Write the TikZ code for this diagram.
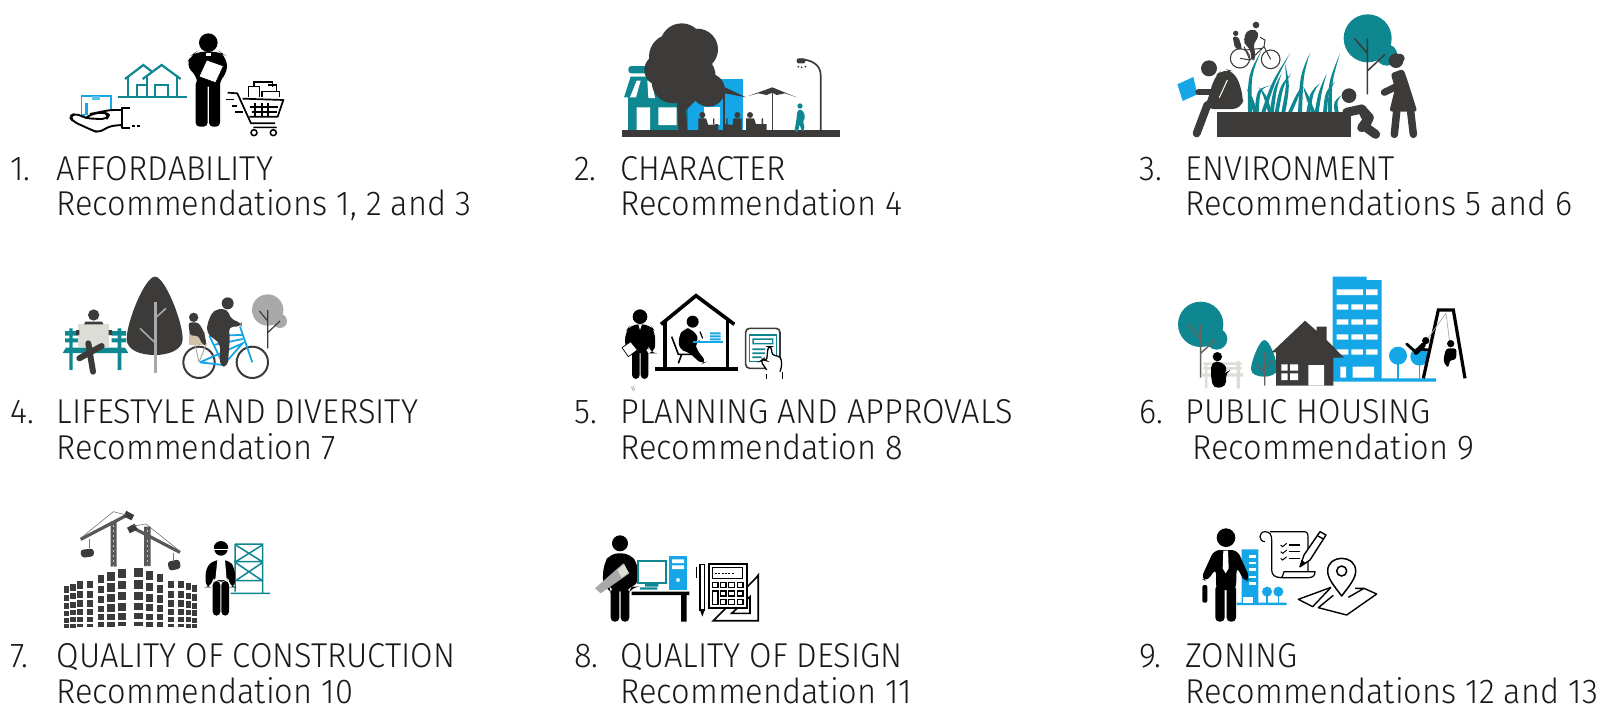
\documentclass[tikz,border=0pt]{standalone}
\usepackage{fontspec}
\setmainfont[FakeStretch=0.945]{Fira Sans Light}
\definecolor{tl}{HTML}{0E8791}
\definecolor{dk}{HTML}{3C3B39}
\definecolor{bl}{HTML}{14A6E6}
\definecolor{gy}{HTML}{A9A9A9}
\definecolor{lg}{HTML}{DDDDD8}
\tikzset{
 lab/.style={font=\fontsize{34.5}{35}\selectfont, anchor=base west, inner sep=0pt, text=black!90},
 zoomed/.style={x=0.33333pt,y=-0.33333pt},
 limb/.style={line cap=round,line join=round},
}
\newcommand\blade[5]{\fill[tl] (#1-6,322) .. controls (#2-5,#3) .. (#4,#5) .. controls (#2+5,#3) .. (#1+6,322) -- cycle;}
\newcommand\bcol[5]{\foreach \i in {1,...,#5}{\pgfmathsetmacro\ya{#3+(#4-#3)*(1-(1.0001-(\i-1)/#5)^1.25)}\pgfmathsetmacro\yn{#3+(#4-#3)*(1-(1.0001-\i/#5)^1.25)}\pgfmathsetmacro\yb{\ya+0.76*(\yn-\ya)}\fill[dk] (#1,\ya) rectangle (#1+#2,\yb);}}
\begin{document}
\begin{tikzpicture}[x=1pt,y=-1pt]
\useasboundingbox (0,0) rectangle (1600,715);
% ---------- labels
\node[lab] (n1) at (10,180.5) {1.}; \node[lab] (t1) at (56.5,180.5) {AFFORDABILITY}; \node[lab] (r1) at (56.5,215) {Recommendations 1, 2 and 3};
\node[lab] (n2) at (574,180.5) {2.}; \node[lab] (t2) at (620.5,180.5) {CHARACTER}; \node[lab] (r2) at (620.5,215) {Recommendation 4};
\node[lab] (n3) at (1139,180.5) {3.}; \node[lab] (t3) at (1185.5,180.5) {ENVIRONMENT}; \node[lab] (r3) at (1185.5,215) {Recommendations 5 and 6};
\node[lab] (n4) at (10,423) {4.}; \node[lab] (t4) at (56.5,423) {LIFESTYLE AND DIVERSITY}; \node[lab] (r4) at (56.5,459.5) {Recommendation 7};
\node[lab] (n5) at (574,423) {5.}; \node[lab] (t5) at (620.5,423) {PLANNING AND APPROVALS}; \node[lab] (r5) at (620.5,459.5) {Recommendation 8};
\node[lab] (n6) at (1139,423) {6.}; \node[lab] (t6) at (1185.5,423) {PUBLIC HOUSING}; \node[lab] (r6) at (1192.5,459.5) {Recommendation 9};
\node[lab] (n7) at (10,667) {7.}; \node[lab] (t7) at (56.5,667) {QUALITY OF CONSTRUCTION}; \node[lab] (r7) at (56.5,703.5) {Recommendation 10};
\node[lab] (n8) at (574,667) {8.}; \node[lab] (t8) at (620.5,667) {QUALITY OF DESIGN}; \node[lab] (r8) at (620.5,703.5) {Recommendation 11};
\node[lab] (n9) at (1139,667) {9.}; \node[lab] (t9) at (1185.5,667) {ZONING}; \node[lab] (r9) at (1185.5,703.5) {Recommendations 12 and 13};
% ---------- icon 1
\begin{scope}[shift={(50,20)},zoomed]
\draw[tl,line width=2.2pt] (205,232)--(410,232);
\draw[tl,line width=2.2pt,line join=miter] (225,177)--(280,135)--(306,155) (278,177)--(335,135)--(392,177);
\draw[tl,line width=2pt] (233,172)--(233,232) (292,170)--(292,232) (380,170)--(380,232)
 (262,232)--(262,195)--(290,195) (316,232)--(316,195)--(355,195)--(355,232);
\fill (475,68) circle[radius=28];
\fill[rounded corners=8pt] (440,95)--(510,95)--(525,105)--(535,155)--(505,185)--(508,200)--(442,200)--(445,175)--(407,135)--(425,105)--cycle;
\fill[rounded corners=4pt] (437,180) rectangle (473,320);
\fill[rounded corners=4pt] (477,180) rectangle (510,320);
\fill[white] (470,120)--(520,138)--(497,188)--(447,170)--cycle;
\draw[line width=.6pt] (470,120)--(520,138)--(497,188)--(447,170)--cycle;
\fill[white] (468,100) rectangle (482,108);
\draw[bl,line width=1.6pt] (105,285)--(95,285)--(95,228)--(183,228)--(183,270);
\fill[bl!70] (125,228) rectangle (150,240);
\fill[bl] (105,250) rectangle (115,285);
\draw[line width=1.9pt,line join=round] (240,263)--(215,263)--(215,325)--(240,325);
\draw[line width=1.9pt,line join=round,rounded corners=5pt,fill=white] (215,315)--(180,318)--(145,338)--(125,330)--(70,305)--(58,290)--(75,280)--(110,295)--(170,298)--(178,283)--(160,277)--(125,282)--(105,295);
\draw[line width=1.9pt,rounded corners=4pt] (120,282)--(180,270)--(215,270);
\fill (247,315) rectangle (256,320); \fill (260,315) rectangle (269,320);
% cart
\draw[line width=1.7pt,line join=round] (533,218)--(562,220)--(603,310)--(675,310);
\draw[line width=1.7pt,line join=round] (578,236)--(700,240)--(683,290)--(598,290);
\draw[line width=1.7pt] (616,250)--(616,288) (635,250)--(635,288) (655,250)--(655,288) (600,262)--(685,262) (605,276)--(680,276);
\draw[line width=1.5pt] (612,338) circle[radius=9] (670,338) circle[radius=9] (610,322)--(680,322);
\draw[line width=1.4pt] (595,232)--(595,200)--(628,200)--(628,232) (612,200)--(612,186)--(668,186)--(668,200) (636,232)--(636,215)--(688,215)--(688,232) (655,195)--(680,195)--(680,215);
\draw[line width=1.3pt] (528,238)--(552,238) (555,276)--(580,276) (545,258)--(562,258);
\end{scope}
% ---------- icon 2
\begin{scope}[shift={(610,10)},zoomed]
\fill[bl] (235,208) rectangle (400,360);
\fill[white] (283,290) rectangle (330,345);
\fill[tl] (55,225) rectangle (235,360);
\fill[white] (80,292) rectangle (120,360) (145,292) rectangle (200,345);
\fill[tl,rounded corners=3pt] (55,168) rectangle (115,190);
\fill[tl] (62,200)--(150,200)--(170,265)--(42,262)--cycle;
\fill[white] (80,212)--(92,212)--(78,262)--(60,262)--cycle (112,212)--(125,212)--(135,264)--(115,264)--cycle;
\fill[dk] (35,360) rectangle (690,380);
\fill[dk] (215,105) circle[radius=65] (185,140) circle[radius=68] (262,118) circle[radius=62] (150,180) circle[radius=47] (190,215) circle[radius=65] (245,200) circle[radius=72] (295,240) circle[radius=50];
\fill[dk] (205,360)--(232,360)--(228,300)--(258,270)--(200,260)--cycle;
\draw[dk,line width=1.4pt] (342,250)--(342,360) (487,235)--(487,360);
\fill[dk] (345,232)--(408,262)--(345,250)--cycle;
\fill[dk] (415,258)--(487,232)--(560,262)--(525,250)--(500,255)--(487,248)--(470,255)--(445,250)--cycle;
\draw[dk,line width=1.7pt] (632,360)--(632,195) .. controls (632,165) and (605,148) .. (568,148);
\fill[dk,rounded corners=2pt] (560,145) rectangle (586,160);
\fill[dk] (565,170) circle[radius=3] (575,172) circle[radius=3] (586,170) circle[radius=3];
% people
\fill[dk] (277,315) circle[radius=9] (382,315) circle[radius=9] (420,315) circle[radius=9];
\fill[dk] (265,325)--(288,325)--(295,345)--(325,342)--(325,360)--(265,360)--cycle;
\fill[dk] (370,325)--(395,325)--(395,360)--(345,360)--(345,342)--(368,345)--cycle;
\fill[dk] (408,325)--(432,325)--(438,342)--(470,342)--(470,360)--(408,360)--cycle;
\fill[dk] (309,325) rectangle (313,342) (349,325) rectangle (353,342) (455,325) rectangle (459,342);
% walker
\fill[tl] (570,288) circle[radius=8];
\fill[tl,rounded corners=3pt] (562,299)--(578,299)--(587,325)--(578,328)--(585,360)--(576,366)--(568,340)--(565,366)--(553,366)--(560,325)--cycle;
\end{scope}
% ---------- icon 3
\begin{scope}[shift={(1170,5)},zoomed]
\fill[tl] (593,100) circle[radius=72] (650,150) circle[radius=32];
\draw[dk,line width=1.5pt] (592,100)--(592,268) (553,100)--(592,145) (645,148)--(592,198);
\blade{240}{238}{210}{275}{135}\blade{260}{265}{250}{310}{240}\blade{280}{310}{230}{360}{145}\blade{305}{315}{250}{335}{205}\blade{320}{335}{240}{365}{205}\blade{340}{355}{240}{345}{175}\blade{390}{395}{210}{420}{143}\blade{415}{425}{260}{450}{235}\blade{440}{450}{260}{470}{205}\blade{480}{480}{230}{510}{145}\blade{465}{470}{260}{495}{230}\blade{255}{245}{280}{230}{250}\blade{360}{385}{265}{395}{245}\blade{300}{285}{270}{265}{245}\blade{430}{410}{270}{400}{245}\blade{500}{495}{290}{515}{270}
\fill[dk] (140,322) rectangle (543,395);
\fill[bl] (22,238)--(70,216)--(82,268)--(38,288)--cycle;
\fill[dk] (117,190) circle[radius=24];
\fill[dk,rounded corners=10pt] (130,218)--(160,190)--(195,200)--(220,270)--(218,312)--(100,312)--(120,270)--cycle;
\draw[dk,limb,line width=8pt] (112,300)--(80,385);
\draw[dk,limb,line width=6pt] (85,262)--(150,262);
\draw[white,line width=1pt] (148,278)--(172,225);
% bike
\draw[dk,line width=1.1pt] (210,160) circle[radius=29] (302,163) circle[radius=28];
\draw[dk,line width=1pt] (210,160)--(240,165)--(282,125)--(302,163) (240,165)--(222,125) (225,135)--(278,130) (270,97)--(285,105)--(282,125);
\fill[dk] (258,60) circle[radius=10] (197,85) circle[radius=8];
\fill[dk,rounded corners=4pt] (228,78)--(258,72)--(268,95)--(250,115)--(258,160)--(245,170)--(240,130)--(220,115)--cycle;
\fill[dk,rounded corners=2pt] (188,95)--(205,95)--(215,125)--(215,135)--(195,130)--cycle;
% child
\fill[dk] (537,272) circle[radius=22];
\draw[dk,limb,line width=9pt] (530,322)--(575,312)--(592,345)--(575,368);
\draw[dk,limb,line width=9pt] (575,312)--(598,338)--(585,365)--(617,388);
% woman
\fill[dk] (678,167) circle[radius=22] (690,160) circle[radius=14];
\fill[dk,rounded corners=3pt] (662,205)--(700,192)--(712,225)--(742,320)--(658,320)--(675,250)--cycle;
\draw[dk,limb,line width=7pt] (643,262)--(678,245);
\draw[dk,limb,line width=7.5pt] (680,320)--(673,388) (722,320)--(730,388);
\end{scope}
% ---------- icon 4
\begin{scope}[shift={(50,265)},zoomed]
\fill[tl] (58,190) rectangle (68,315) (203,190) rectangle (214,315);
\fill[tl] (45,198) rectangle (85,212) (45,220) rectangle (85,232) (185,198) rectangle (228,212) (185,220) rectangle (228,232);
\fill[tl] (48,248)--(225,248)--(235,264)--(38,264)--cycle;
\fill[lg] (85,178) rectangle (178,245);
\fill[dk] (131,150) circle[radius=17] (106,170)--(156,170)--(160,178)--(102,178)--cycle;
\fill[dk] (78,195) rectangle (88,210) (176,195) rectangle (186,210);
\draw[dk,limb,line width=6pt] (88,280)--(155,243) (115,235)--(129,320);
\fill[dk] (315,35) .. controls (345,35) and (398,170) .. (398,222) .. controls (398,255) and (355,270) .. (315,270) .. controls (270,270) and (230,255) .. (230,222) .. controls (230,170) and (285,35) .. (315,35) -- cycle;
\draw[gy,line width=2.6pt] (317,110)--(317,325);
\draw[gy,line width=1.6pt] (270,190)--(317,235) (348,130)--(317,158);
\fill[gy] (653,135) circle[radius=47] (690,168) circle[radius=21];
\draw[dk,line width=1.2pt] (653,135)--(653,250) (628,138)--(653,168) (690,168)--(653,203);
% bike
\draw[dk,line width=2pt] (447,292) circle[radius=47] (607,292) circle[radius=47];
\draw[gy,line width=1pt] (447,292)--(430,215) (447,292)--(470,235);
\fill[dk] (431,157) circle[radius=14] (533,115) circle[radius=18];
\fill[lg!70!brown] (418,200) rectangle (465,240);
\fill[dk,rounded corners=3pt] (415,172)--(445,172)--(462,200)--(470,240)--(458,240)--(445,212)--(420,212)--cycle;
\draw[bl,line width=1.8pt] (450,292)--(578,235)--(520,300)--(450,292) (478,212)--(520,300) (478,212)--(578,210) (570,185)--(607,292) (490,240)--(578,222);
\fill[dk,rounded corners=5pt] (490,135)--(530,130)--(545,165)--(575,172)--(575,185)--(535,185)--(540,215)--(533,305)--(510,305)--(510,235)--(470,205)--(472,175)--cycle;
\end{scope}
% ---------- icon 5
\begin{scope}[shift={(610,285)},zoomed]
\fill (90,95) circle[radius=22];
\fill[rounded corners=8pt] (62,118)--(120,118)--(136,140)--(135,205)--(118,205)--(115,170)--(115,205)--(65,205)--(65,170)--(60,205)--(44,190)--(46,140)--cycle;
\fill[rounded corners=4pt] (66,195) rectangle (89,282) (92,195) rectangle (115,282);
\fill[white] (36,188)--(62,170)--(82,195)--(55,215)--cycle;
\draw[line width=.7pt] (36,188)--(62,170)--(82,195)--(55,215)--cycle;
\fill[white] (85,118)--(96,118)--(90,135)--cycle;
\draw[line width=3.6pt] (153,118)--(258,32)--(373,118);
\draw[line width=3.2pt] (165,105)--(165,252) (352,105)--(352,252);
\draw[line width=3.6pt] (135,252)--(383,252);
\fill (248,110) circle[radius=18];
\fill[rounded corners=6pt] (222,130)--(245,130)--(270,165)--(255,172)--(260,195)--(290,230)--(275,238)--(235,200)--(208,195)--(205,155)--cycle;
\draw[line width=1.6pt] (185,155)--(205,208)--(250,208) (215,208)--(205,235);
\draw[line width=1.2pt] (270,140)--(278,160);
\draw[bl,line width=1.8pt] (248,171)--(338,171);
\fill[bl] (300,142) rectangle (332,148) (300,151) rectangle (332,157) (300,160) rectangle (332,166);
\draw[dk,line width=1.6pt,rounded corners=4pt] (407,130) rectangle (510,250);
\draw[tl,line width=1.5pt] (419,150) rectangle (500,230);
\fill[tl] (427,160) rectangle (490,178) (427,190) rectangle (465,195) (427,202) rectangle (465,207) (427,214) rectangle (455,219);
\fill[white] (431,164) rectangle (486,174);
\draw[line width=1.3pt,fill=white,rounded corners=3pt] (470,255)--(452,228)--(460,222)--(470,228)--(474,185)--(484,185)--(486,210)--(512,215)--(516,240)--(510,260);
\draw[line width=1.3pt] (470,268)--(470,282) (517,262)--(517,282);
\draw[gy,line width=.8pt] (64,305)--(70,318) (69,303)--(75,316);
\end{scope}
% ---------- icon 6
\begin{scope}[shift={(1170,265)},zoomed]
\fill[tl] (92,178) circle[radius=68] (140,222) circle[radius=32];
\draw[dk!80,line width=1.5pt] (92,178)--(92,338) (55,178)--(92,222) (138,222)--(92,265);
\fill[lg] (100,292) rectangle (215,300) (100,306) rectangle (215,314) (95,325) rectangle (220,335) (105,292) rectangle (112,370) (200,288) rectangle (210,370);
\fill (142,275) circle[radius=14];
\fill[rounded corners=5pt] (125,290)--(158,290)--(175,318)--(168,322)--(168,365)--(130,370)--(122,330)--cycle;
\fill[tl] (283,225) .. controls (300,225) and (322,290) .. (322,312) .. controls (322,328) and (300,335) .. (283,335) .. controls (262,335) and (243,328) .. (243,312) .. controls (243,290) and (268,225) .. (283,225) -- cycle;
\draw[dk!80,line width=1.2pt] (284,262)--(284,362) (258,297)--(284,322) (308,287)--(284,310);
\fill[bl] (488,35)--(590,35)--(590,45)--(635,45)--(635,340)--(798,340)--(798,350)--(488,350)--cycle;
\fill[white] (500,73) rectangle (579,90) (588,73) rectangle (623,90);
\foreach \yy in {118,163,208,253}{\fill[white] (500,\yy) rectangle (535,\yy+16) (544,\yy) rectangle (579,\yy+16) (588,\yy) rectangle (623,\yy+16);}
\fill[white] (511,305) rectangle (528,338) (548,305) rectangle (612,338);
\fill[dk] (305,262)--(405,167)--(440,198)--(440,185)--(470,185)--(470,225)--(522,278)--(490,278)--(490,362)--(318,362)--(318,262)--cycle;
\fill[white] (334,298) rectangle (353,317) (360,298) rectangle (384,317) (334,325) rectangle (353,345) (360,325) rectangle (384,345) (415,300) rectangle (462,362);
\fill[bl] (684,272) circle[radius=27] (748,275) circle[radius=27];
\draw[bl,line width=1.3pt] (684,272)--(684,342) (748,275)--(748,342);
\draw[line width=3.2pt,line join=miter] (760,340)--(805,135)--(850,135)--(885,340);
\draw[gy,line width=.7pt] (828,145)--(770,225) (828,145)--(840,240);
\fill (767,227) circle[radius=11] (842,236) circle[radius=11];
\draw[limb,line width=5pt] (760,240)--(738,262);
\draw[limb,line width=2.8pt] (738,262)--(710,237) (750,252)--(775,255);
\fill[rounded corners=3pt] (828,250)--(860,250)--(858,285)--(838,285)--(838,305)--(828,305)--(820,285)--cycle;
\end{scope}
% ---------- icon 7
\begin{scope}[shift={(60,500)},zoomed]
\bcol{12}{15}{258}{386}{6}\bcol{31}{16}{251}{386}{6}\bcol{52}{17}{244}{386}{6}
\bcol{82}{16}{243}{386}{6}
\bcol{113}{20}{224}{384}{6}\bcol{142}{22}{216}{384}{6}\bcol{174}{24}{206}{384}{6}
\bcol{223}{25}{204}{384}{6}\bcol{258}{22}{214}{384}{6}\bcol{290}{20}{222}{384}{6}
\bcol{325}{16}{243}{386}{6}
\bcol{355}{17}{243}{386}{6}\bcol{378}{15}{250}{386}{6}\bcol{397}{14}{256}{386}{6}
\fill[dk!85] (152,65) rectangle (170,200) (252,80) rectangle (272,198);
\foreach \yy in {75,90,...,195}{\fill[white!70!dk] (159,\yy) rectangle (163,\yy+5);}
\foreach \yy in {90,105,...,195}{\fill[white!70!dk] (260,\yy) rectangle (264,\yy+5);}
\draw[dk!85,line width=3.2pt] (62,118)--(200,46) (222,85)--(360,157);
\fill[dk,rotate around={-28:(207,47)}] (193,38) rectangle (220,56);
\fill[dk,rotate around={27:(217,86)}] (204,76) rectangle (230,95);
\draw[dk!70,line width=.6pt] (65,112)--(160,35)--(200,45) (220,78)--(258,72)--(358,152);
\draw[dk!70,line width=.7pt] (88,118)--(88,145) (340,158)--(340,180);
\fill[dk,rounded corners=3pt] (60,150)--(100,145)--(103,168)--(66,174)--cycle (322,185)--(358,178)--(363,205)--(328,213)--cycle;
\draw[tl,line width=1.5pt] (525,132)--(610,132) (522,185)--(610,185) (530,242)--(610,242) (525,132)--(525,275) (608,132)--(608,280) (527,135)--(607,185) (607,135)--(527,185) (527,188)--(607,242) (607,188)--(527,242) (512,280)--(630,280);
\fill[white] (462,180) rectangle (522,250);
\fill (483,147) circle[radius=20];
\fill (461,145) arc[start angle=180,end angle=360,radius=22] -- cycle;
\fill[white] (462,146) rectangle (505,150);
\fill[rounded corners=6pt] (460,180)--(507,180)--(525,205)--(525,262)--(512,262)--(503,225)--(501,245)--(465,245)--(464,225)--(450,262)--(437,262)--(437,205)--cycle;
\fill[white] (472,180)--(495,180)--(500,240)--(466,240)--cycle;
\fill[rounded corners=4pt] (458,243) rectangle (481,347) (484,243) rectangle (507,347);
\end{scope}
% ---------- icon 8
\begin{scope}[shift={(590,525)},zoomed]
\fill (90,55) circle[radius=24];
\fill[rounded corners=8pt] (60,85)--(120,85)--(145,120)--(143,185)--(125,185)--(118,200)--(62,200)--(58,185)--(38,185)--(40,120)--cycle;
\fill[rounded corners=4pt] (62,190) rectangle (88,290) (92,190) rectangle (118,290);
\fill[gy] (15,190)--(100,115)--(118,145)--(32,205)--cycle;
\fill[lg] (82,135)--(103,118)--(115,143)--(95,158)--cycle;
\draw[tl,line width=1.8pt] (145,108) rectangle (228,175);
\fill[tl] (165,175) rectangle (205,185) (150,187) rectangle (202,194);
\fill[bl] (238,93) rectangle (290,195);
\fill[white] (246,103) rectangle (282,114) (246,121) rectangle (282,132) (259,160) rectangle (269,170);
\fill (125,200) rectangle (298,210) (273,205) rectangle (290,290);
\draw[line width=1.5pt] (330,118) rectangle (344,255);
\draw[line width=1.4pt] (320,125)--(320,160);
\fill (330,255)--(344,255)--(337,275)--cycle;
\draw[line width=1.7pt,fill=white] (497,160)--(505,150)--(505,287)--(370,287)--cycle;
\draw[line width=1.6pt,fill=white] (480,215)--(480,265)--(425,265)--cycle;
\draw[line width=1.8pt,fill=white] (356,118) rectangle (470,250);
\draw[line width=1.5pt] (367,128) rectangle (458,160);
\foreach \xx in {375,385,...,425}{\fill (\xx,143) rectangle (\xx+6,148);}
\foreach \xx in {367,391,416,442}{\draw[line width=1.4pt] (\xx,172) rectangle (\xx+17,188);}
\foreach \xx in {391,416,442}{\draw[line width=1.4pt] (\xx,198) rectangle (\xx+17,213);\draw[line width=1.4pt] (\xx,223) rectangle (\xx+17,238);}
\draw[line width=1.4pt] (367,198) rectangle (384,238);
\end{scope}
% ---------- icon 9
\begin{scope}[shift={(1190,510)},zoomed]
\fill[bl] (155,118) rectangle (205,285) (140,278) rectangle (290,285);
\foreach \yy in {135,155,175,197,217}{\fill[white] (178,\yy) rectangle (198,\yy+8);}
\fill[white] (158,262) rectangle (188,278);
\fill[bl] (231,245) circle[radius=15] (265,245) circle[radius=15];
\draw[bl,line width=1.1pt] (231,245)--(231,280) (265,245)--(265,280);
\fill (108,83) circle[radius=28];
\fill[rounded corners=6pt] (72,120)--(142,120)--(180,205)--(165,218)--(140,170)--(138,240)--(78,240)--(78,175)--(50,215)--(33,205)--cycle;
\fill[rounded corners=4pt] (76,225) rectangle (104,335) (110,225) rectangle (138,335);
\fill[white] (100,122)--(114,122)--(116,175)--(107,190)--(98,175)--cycle;
\fill[rounded corners=2pt] (37,225) rectangle (52,278);
\draw[line width=1.2pt,line join=round] (240,65)--(343,65) .. controls (354,65) and (354,75) .. (354,85)--(354,185) (225,95) .. controls (205,95) and (205,65) .. (225,65) .. controls (240,65) and (245,75) .. (245,90)--(245,180) .. controls (245,195) and (255,203) .. (275,203)--(355,203) .. controls (370,203) and (375,195) .. (375,185)--(282,185) .. controls (278,195) and (278,200) .. (275,203);
\foreach \yy in {105,125,145}{\draw[line width=1pt] (272,\yy)--(278,\yy+5)--(290,\yy-5); \draw[line width=1.2pt] (296,\yy)--(330,\yy);}
\draw[line width=1.4pt,fill=white,line join=round] (330,170)--(342,135)--(390,65)--(408,75)--(360,150)--cycle;
\fill (328,172)--(335,150)--(348,160)--cycle;
\draw[line width=1.4pt] (384,78)--(402,88);
\draw[line width=1.4pt,line join=round] (423,232)--(368,290)--(325,268)--(423,232) (430,256)--(385,293)--(470,315)--(560,252)--(522,235)--(475,262) (495,235)--(522,235);
\draw[line width=1.5pt,fill=white,line join=round] (455,258) .. controls (430,225) and (413,205) .. (413,183) .. controls (413,158) and (433,145) .. (455,145) .. controls (477,145) and (497,158) .. (497,183) .. controls (497,205) and (480,225) .. (455,258) -- cycle;
\draw[line width=1.5pt] (455,183) circle[radius=15];
\end{scope}
\end{tikzpicture}
\end{document}
